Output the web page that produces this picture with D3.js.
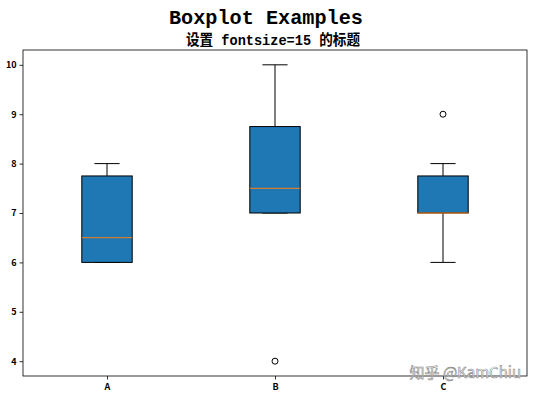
<!DOCTYPE html>
<html>
<head>
<meta charset="utf-8">
<script src="https://cdn.jsdelivr.net/npm/d3@7"></script>
<style>
  body { margin: 0; background: #fff; }
  svg { display: block; }
</style>
</head>
<body>
<div id="chart"></div>
<script>
// box statistics
var categories = ["A", "B", "C"];
var whiskerLow = [6, 7, 6];
var q1 = [6, 7, 7];
var medians = [6.5, 7.5, 7];
var q3 = [7.75, 8.75, 7.75];
var whiskerHigh = [8, 10, 8];
var outliers = [[], [4], [9]];
var yTicks = [4, 5, 6, 7, 8, 9, 10];

var W = 536, H = 398;
var margin = { top: 50, right: 9, bottom: 22, left: 23 },
    width = W - margin.left - margin.right,
    height = H - margin.top - margin.bottom;

var svg = d3.select("#chart").append("svg")
    .attr("width", W).attr("height", H);

// titles
svg.append("text")
    .attr("x", 266).attr("y", 24)
    .attr("text-anchor", "middle")
    .attr("font-family", "'Liberation Mono', 'DejaVu Sans Mono', monospace")
    .attr("font-size", "21px")
    .attr("font-weight", "bold")
    .attr("textLength", 194).attr("lengthAdjust", "spacingAndGlyphs")
    .text("Boxplot Examples");

svg.append("text")
    .attr("x", 273).attr("y", 45)
    .attr("text-anchor", "middle")
    .attr("font-family", "'Liberation Mono', 'Noto Sans CJK SC', monospace")
    .attr("font-size", "15px")
    .attr("font-weight", "bold")
    .attr("textLength", 174).attr("lengthAdjust", "spacingAndGlyphs")
    .text("设置 fontsize=15 的标题");

var g = svg.append("g")
    .attr("transform", "translate(" + margin.left + "," + margin.top + ")");

var x = d3.scaleLinear().domain([0.5, 3.5]).range([0, width]);
var y = d3.scaleLinear().domain([3.7, 10.3]).range([height, 0]);

var boxW = x(1.3) - x(1);     // box width = 0.3
var capW = x(1.075) - x(1);   // half cap width

// axes
var xAxis = g.append("g")
    .attr("transform", "translate(0," + height + ")")
    .call(d3.axisBottom(x).tickValues([1, 2, 3])
        .tickFormat(function (d, i) { return categories[i]; })
        .tickSizeOuter(0).tickSize(3.5).tickPadding(4));
var yAxis = g.append("g")
    .call(d3.axisLeft(y).tickValues(yTicks).tickFormat(d3.format("d"))
        .tickSizeOuter(0).tickSize(3.5).tickPadding(3));

[xAxis, yAxis].forEach(function (a) {
    a.select(".domain").remove();
    a.selectAll("line").attr("stroke", "#000").attr("stroke-width", 0.8);
    a.selectAll("text")
        .attr("font-family", "'Noto Sans CJK SC', 'DejaVu Sans', sans-serif")
        .attr("font-weight", "bold")
        .attr("font-size", "9px")
        .attr("fill", "#000");
});

// boxes
categories.forEach(function (c, i) {
    var cx = x(i + 1);
    // whiskers
    g.append("line")
        .attr("x1", cx).attr("x2", cx)
        .attr("y1", y(whiskerLow[i])).attr("y2", y(q1[i]))
        .attr("stroke", "#000").attr("stroke-width", 1);
    g.append("line")
        .attr("x1", cx).attr("x2", cx)
        .attr("y1", y(q3[i])).attr("y2", y(whiskerHigh[i]))
        .attr("stroke", "#000").attr("stroke-width", 1);
    // caps
    [whiskerLow[i], whiskerHigh[i]].forEach(function (v) {
        g.append("line")
            .attr("x1", cx - capW).attr("x2", cx + capW)
            .attr("y1", y(v)).attr("y2", y(v))
            .attr("stroke", "#000").attr("stroke-width", 1);
    });
    // box
    g.append("rect")
        .attr("x", cx - boxW / 2).attr("width", boxW)
        .attr("y", y(q3[i])).attr("height", y(q1[i]) - y(q3[i]))
        .attr("fill", "#1f77b4").attr("stroke", "#000").attr("stroke-width", 1);
    // median
    g.append("line")
        .attr("x1", cx - boxW / 2).attr("x2", cx + boxW / 2)
        .attr("y1", y(medians[i])).attr("y2", y(medians[i]))
        .attr("stroke", "#ff7f0e").attr("stroke-width", 1);
    // fliers
    outliers[i].forEach(function (v) {
        g.append("circle")
            .attr("cx", cx).attr("cy", y(v)).attr("r", 3)
            .attr("fill", "none").attr("stroke", "#000").attr("stroke-width", 1);
    });
});

// frame
g.append("rect")
    .attr("x", 0).attr("y", 0).attr("width", width).attr("height", height)
    .attr("fill", "none").attr("stroke", "#000").attr("stroke-width", 0.8);

// watermark
svg.append("text")
    .attr("x", 521).attr("y", 378)
    .attr("text-anchor", "end")
    .attr("font-family", "'Noto Sans CJK SC', sans-serif")
    .attr("font-size", "15px")
    .attr("fill", "#fff").attr("fill-opacity", 0.85)
    .attr("stroke", "#888").attr("stroke-width", 0.6)
    .text("知乎 @KamChiu");
</script>
</body>
</html>
